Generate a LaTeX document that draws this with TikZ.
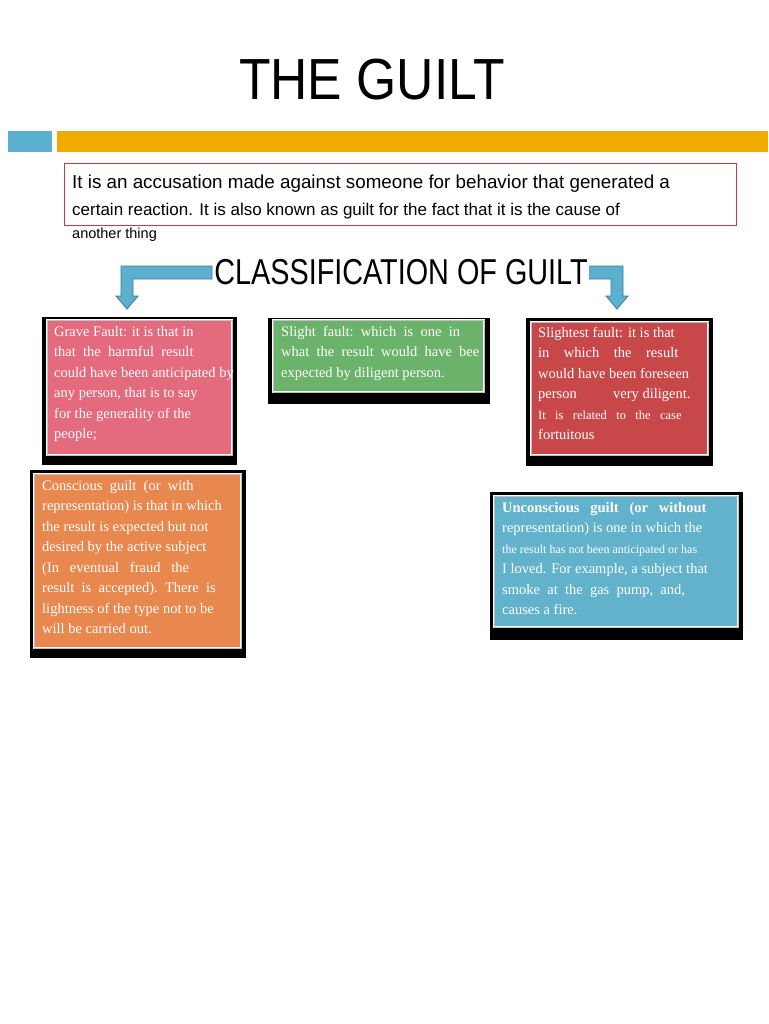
\documentclass[tikz,border=0pt]{standalone}
\usepackage{fontspec}
\setmainfont{Liberation Serif}
\newfontfamily\headfont{Liberation Sans}
\newfontfamily\plainsans{Liberation Sans}
\usetikzlibrary{positioning}
\definecolor{barblue}{HTML}{5BAFCF}
\definecolor{barorange}{HTML}{F0AA00}
\definecolor{boxpink}{HTML}{E46A7E}
\definecolor{boxgreen}{HTML}{6BB36A}
\definecolor{boxred}{HTML}{C8484A}
\definecolor{boxorange}{HTML}{E8874E}
\definecolor{boxblue}{HTML}{62B2CC}
\definecolor{frame}{HTML}{C9393D}
\tikzset{
  shadowbox/.style={fill=black},
  colorbox/.style={draw=white, double=black!25, double distance=0.8pt, line width=1pt},
  boxtext/.style={text=white, font=\fontsize{14.5}{20.5}\selectfont, align=left, anchor=north west, inner sep=0pt},
  defline/.style={anchor=base west, inner sep=0pt},
  guiltarrow/.style={fill=barblue, draw=barblue!70!black, line width=0.8pt}
}
\begin{document}
\begin{tikzpicture}[x=1pt,y=-1pt]
  \useasboundingbox (0,0) rectangle (768,1024);
  % title and bars
  \node[xscale=0.89] (title) at (372,80) {\headfont\fontsize{58}{60}\selectfont THE GUILT};
  \fill[barblue] (8,131) rectangle (52,152);
  \fill[barorange] (57,131) rectangle (768,152);
  % definition
  \draw[frame, line width=1pt] (64,164) rectangle (736,226);
  \node[defline, font=\plainsans\fontsize{18.8}{22}\selectfont] (defa) at (72,189)
    {It is an accusation made against someone for behavior that generated a};
  \node[defline, font=\plainsans\fontsize{17}{20}\selectfont] (defb) at (72,215)
    {certain reaction. It is also known as guilt for the fact that it is the cause of};
  \node[defline, font=\plainsans\fontsize{14.5}{17}\selectfont] (defc) at (72,239)
    {another thing};
  % arrows
  \draw[guiltarrow] (212,266) -- (121,266) -- (121,296) -- (116,296) -- (127,309) -- (138,296)
    -- (133,296) -- (133,279) -- (212,279) -- cycle;
  \draw[guiltarrow] (540,266) -- (623,266) -- (623,296) -- (628,296) -- (617,309) -- (606,296)
    -- (611,296) -- (611,279) -- (540,279) -- cycle;
  \node[fill=white, inner sep=2pt, xscale=0.8] (classification) at (401,272)
    {\headfont\fontsize{36}{38}\selectfont CLASSIFICATION OF GUILT};
  % grave fault
  \fill[shadowbox] (42,317) rectangle (237,465);
  \draw[colorbox, fill=boxpink] (47,320) rectangle (232,455);
  \node[boxtext] (grave) at (54,326) {Grave Fault: it is that in\\that\ \ the\ \ harmful\ \ result\\could have been anticipated by\\any person, that is to say\\for the generality of the\\people;};
  % slight fault
  \fill[shadowbox] (268,318) rectangle (490,404);
  \draw[colorbox, fill=boxgreen] (273,320) rectangle (484,392);
  \node[boxtext] (slight) at (281,326) {Slight\ \ fault:\ \ which\ \ is\ \ one\ \ in\\what\ \ the\ \ result\ \ would\ \ have\ \ bee\\expected by diligent person.};
  % slightest fault
  \fill[shadowbox] (526,318) rectangle (713,466);
  \draw[colorbox, fill=boxred] (531,322) rectangle (708,455);
  \node[boxtext] (slightest) at (538,327) {Slightest fault: it is that\\in\ \ \ \ which\ \ \ \ the\ \ \ \ result\\would have been foreseen\\person\ \ \ \ \ \ \ \ \ \ very diligent.\\{\fontsize{12.5}{20.5}\selectfont It\ \ \ is\ \ \ related\ \ \ to\ \ \ the\ \ \ case}\\fortuitous};
  % conscious guilt
  \fill[shadowbox] (30,470) rectangle (246,658);
  \draw[colorbox, fill=boxorange] (34,474) rectangle (241,648);
  \node[boxtext] (conscious) at (42,480) {Conscious\ \ guilt\ \ (or\ \ with\\representation) is that in which\\the result is expected but not\\desired by the active subject\\(In\ \ \ eventual\ \ \ fraud\ \ \ the\\result\ \ is\ \ accepted).\ \ There\ \ is\\lightness of the type not to be\\will be carried out.};
  % unconscious guilt
  \fill[shadowbox] (490,492) rectangle (743,640);
  \draw[colorbox, fill=boxblue] (494,496) rectangle (738,627);
  \node[boxtext] (unconscious) at (502,502) {\textbf{Unconscious\ \ \ guilt\ \ \ (or\ \ \ without}\\representation) is one in which the\\{\fontsize{12}{20.5}\selectfont the result has not been anticipated or has}\\I loved. For example, a subject that\\smoke\ \ at\ \ the\ \ gas\ \ pump,\ \ and,\\causes a fire.};
\end{tikzpicture}
\end{document}
